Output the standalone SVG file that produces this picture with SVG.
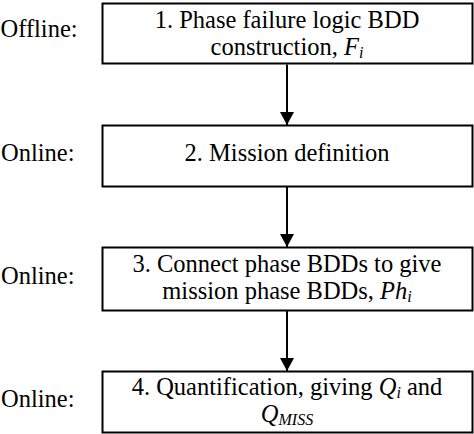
<svg xmlns="http://www.w3.org/2000/svg" width="474" height="434" viewBox="0 0 474 434">
<style>
  .box { fill: #fff; stroke: #000; stroke-width: 2; }
  .t { font-family: Liberation Serif, Tinos, DejaVu Serif, Times New Roman, Times, serif; font-size: 24.5px; fill: #000; }
  .c { text-anchor: middle; }
  .i { font-style: italic; }
  .sub { font-style: italic; font-size: 16px; }
  .conn { stroke: #000; stroke-width: 2; fill: none; marker-end: url(#ah); }
</style>
<defs>
  <marker id="ah" markerUnits="userSpaceOnUse" markerWidth="14" markerHeight="14" refX="13" refY="7" orient="auto">
    <path d="M0,0 L13,7 L0,14 z" fill="#000"/>
  </marker>
</defs>
<rect width="474" height="434" fill="#fff"/>

<g id="label-offline"><text class="t" x="0.5" y="37.3">Offline:</text></g>
<g id="label-online-2"><text class="t" x="1" y="161">Online:</text></g>
<g id="label-online-3"><text class="t" x="1" y="284">Online:</text></g>
<g id="label-online-4"><text class="t" x="1" y="406.7">Online:</text></g>

<g id="node1">
  <rect class="box" x="102.5" y="3.5" width="370" height="60"/>
  <text class="t c" x="287" y="28">1. Phase failure logic BDD</text>
  <text class="t c" x="287" y="55">construction, <tspan class="i">F</tspan><tspan class="sub" dy="3">i</tspan></text>
</g>

<g id="node2">
  <rect class="box" x="102.5" y="125.5" width="370" height="61"/>
  <text class="t c" x="287" y="161">2. Mission definition</text>
</g>

<g id="node3">
  <rect class="box" x="102.5" y="247.5" width="370" height="63"/>
  <text class="t c" x="287" y="271.5">3. Connect phase BDDs to give</text>
  <text class="t c" x="287" y="299">mission phase BDDs, <tspan class="i">Ph</tspan><tspan class="sub" dy="3">i</tspan></text>
</g>

<g id="node4">
  <rect class="box" x="102.5" y="371.5" width="370" height="61"/>
  <text class="t c" x="287" y="394.5">4. Quantification, giving <tspan class="i">Q</tspan><tspan class="sub" dy="3">i</tspan><tspan dy="-3"> and</tspan></text>
  <text class="t c" x="287" y="421.5"><tspan class="i">Q</tspan><tspan class="sub" dy="3">MISS</tspan></text>
</g>

<g id="connectors">
  <line class="conn" x1="287" y1="64.5" x2="287" y2="125"/>
  <line class="conn" x1="287" y1="187" x2="287" y2="247"/>
  <line class="conn" x1="287" y1="311" x2="287" y2="371"/>
</g>
</svg>
